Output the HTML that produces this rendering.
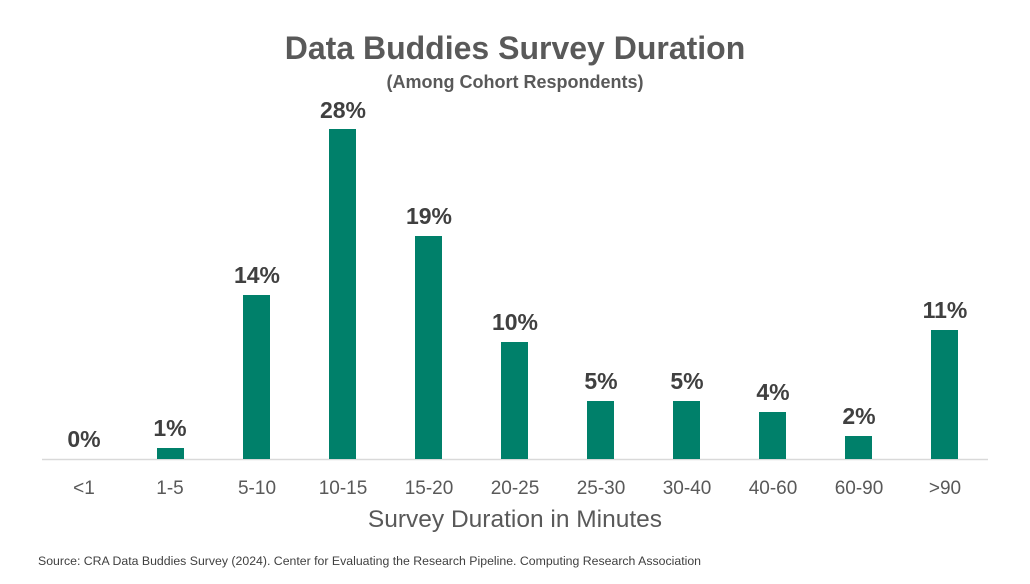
<!DOCTYPE html><html><head><style>body{margin:0;background:#fff}</style></head><body>
<svg width="1030" height="579" xmlns="http://www.w3.org/2000/svg" font-family="Liberation Sans, sans-serif">
<rect width="1030" height="579" fill="#fff"/>
<text x="515" y="59" text-anchor="middle" font-size="32" font-weight="bold" fill="#595959">Data Buddies Survey Duration</text>
<text x="515" y="88" text-anchor="middle" font-size="18" font-weight="bold" fill="#595959">(Among Cohort Respondents)</text>
<line x1="42" y1="459.5" x2="988" y2="459.5" stroke="#d9d9d9" stroke-width="1.5"/>
<g fill="#00806A">
<rect x="157" y="448" width="27" height="11"/>
<rect x="243" y="295" width="27" height="164"/>
<rect x="329" y="129" width="27" height="330"/>
<rect x="415" y="236" width="27" height="223"/>
<rect x="501" y="342" width="27" height="117"/>
<rect x="587" y="401" width="27" height="58"/>
<rect x="673" y="401" width="27" height="58"/>
<rect x="759" y="412" width="27" height="47"/>
<rect x="845" y="436" width="27" height="23"/>
<rect x="931" y="330" width="27" height="129"/>
</g>
<g font-size="23" font-weight="bold" fill="#404040" text-anchor="middle">
<text x="84" y="447">0%</text><text x="170" y="436">1%</text><text x="257" y="283">14%</text>
<text x="343" y="118">28%</text><text x="429" y="224">19%</text><text x="515" y="330">10%</text>
<text x="601" y="389">5%</text><text x="687" y="389">5%</text><text x="773" y="400">4%</text>
<text x="859" y="424">2%</text><text x="945" y="318">11%</text>
</g>
<g font-size="19" fill="#595959" text-anchor="middle">
<text x="84" y="494">&lt;1</text><text x="170" y="494">1-5</text><text x="257" y="494">5-10</text>
<text x="343" y="494">10-15</text><text x="429" y="494">15-20</text><text x="515" y="494">20-25</text>
<text x="601" y="494">25-30</text><text x="687" y="494">30-40</text><text x="773" y="494">40-60</text>
<text x="859" y="494">60-90</text><text x="945" y="494">&gt;90</text>
</g>
<text x="515" y="527" text-anchor="middle" font-size="24.5" fill="#595959">Survey Duration in Minutes</text>
<text x="38" y="565" font-size="12.3" fill="#404040">Source: CRA Data Buddies Survey (2024). Center for Evaluating the Research Pipeline. Computing Research Association</text>
</svg>
</body></html>
